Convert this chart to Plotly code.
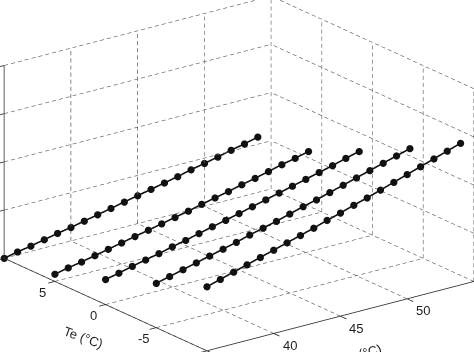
import plotly.graph_objects as go

# ---------------- data ----------------
tc = [35, 36, 37, 38, 39, 40, 41, 42, 43, 44, 45, 46, 47, 48, 49, 50, 51, 52, 53, 54]
te_levels = [10, 5, 0, -5, -10]
z_te10 = [0.00, 0.06, 0.11, 0.17, 0.23, 0.28, 0.34, 0.40, 0.46, 0.52, 0.58, 0.64, 0.70, 0.76, 0.83, 0.89, 0.95, 1.02, 1.08, 1.15]
z_te5 = [0.15, 0.21, 0.26, 0.32, 0.38, 0.44, 0.50, 0.56, 0.62, 0.68, 0.74, 0.81, 0.87, 0.93, 1.00, 1.06, 1.13, 1.20, 1.26, 1.33]
z_te0 = [0.52, 0.58, 0.65, 0.71, 0.77, 0.84, 0.90, 0.97, 1.04, 1.10, 1.17, 1.24, 1.31, 1.38, 1.45, 1.52, 1.59, 1.66, 1.74, 1.81]
z_tem5 = [0.92, 0.99, 1.06, 1.13, 1.20, 1.27, 1.34, 1.42, 1.49, 1.56, 1.64, 1.72, 1.79, 1.87, 1.95, 2.03, 2.11, 2.19, 2.27, 2.35]
z_tem10 = [1.33, 1.41, 1.49, 1.57, 1.65, 1.73, 1.81, 1.89, 1.97, 2.06, 2.14, 2.23, 2.31, 2.40, 2.49, 2.58, 2.67, 2.76, 2.85, 2.94]
z_series = [z_te10, z_te5, z_te0, z_tem5, z_tem10]

tc_ticks = [35, 40, 45, 50, 55]
te_ticks = [10, 5, 0, -5, -10]
z_ticks = [0, 1, 2, 3, 4]
tc_labels = ["35", "40", "45", "50", "55"]
te_labels = ["10", "5", "0", "-5", "-10"]
tc_range = [35, 55]
te_range = [-10, 10]
z_range = [0, 4]

# small room outside the box so that outward tick marks and edge lines are not clipped
TC_TICK = 0.5
TE_TICK = 0.6
EPS = 0.03
tc_view = [tc_range[0] - TC_TICK, tc_range[1] + EPS]
te_view = [te_range[0] - TE_TICK, te_range[1] + EPS]
z_view = [z_range[0] - EPS * 0.2, z_range[1] + EPS * 0.2]

fig = go.Figure()

# ---------------- dashed grid on the three back planes ----------------
gx, gy, gz = [], [], []
def dashed(a, b, n, frac=0.58):
    for k in range(n):
        t0 = k / n
        t1 = (k + frac) / n
        for t in (t0, t1):
            gx.append(a[0] + (b[0] - a[0]) * t)
            gy.append(a[1] + (b[1] - a[1]) * t)
            gz.append(a[2] + (b[2] - a[2]) * t)
        gx.append(None); gy.append(None); gz.append(None)

z0, z1 = z_range
x0, x1 = tc_range
y0, y1 = te_range
N_TC, N_TE, N_Z = 39, 32, 27
for v in te_ticks[:-1]:     # floor, lines along Tc
    dashed((x0, v, z0), (x1, v, z0), N_TC)
for v in tc_ticks[1:]:      # floor, lines along Te
    dashed((v, y0, z0), (v, y1, z0), N_TE)
for v in tc_ticks[1:]:      # wall Te = max
    dashed((v, y1, z0), (v, y1, z1), N_Z)
for v in z_ticks[1:]:
    dashed((x0, y1, v), (x1, y1, v), N_TC)
for v in te_ticks[1:]:      # wall Tc = max
    dashed((x1, v, z0), (x1, v, z1), N_Z)
for v in z_ticks[1:]:
    dashed((x1, y0, v), (x1, y1, v), N_TE)

fig.add_trace(go.Scatter3d(x=gx, y=gy, z=gz, mode="lines",
                           line=dict(color="#5f5f5f", width=1.3),
                           hoverinfo="skip", showlegend=False))

# ---------------- solid axis lines and tick marks ----------------
ax_x = [x0, x0, None, x0, x1, None, x0, x0, None]
ax_y = [y1, y0, None, y0, y0, None, y1, y1, None]
ax_z = [z0, z0, None, z0, z0, None, z0, z1, None]
for v in te_ticks:   # Te ticks, pointing outward (towards lower Tc)
    ax_x += [x0, x0 - TC_TICK, None]; ax_y += [v, v, None]; ax_z += [z0, z0, None]
for v in tc_ticks:   # Tc ticks, pointing outward (towards lower Te)
    ax_x += [v, v, None]; ax_y += [y0, y0 - TE_TICK, None]; ax_z += [z0, z0, None]
for v in z_ticks:    # z ticks on the left vertical axis
    ax_x += [x0, x0 - TC_TICK, None]; ax_y += [y1, y1, None]; ax_z += [v, v, None]
fig.add_trace(go.Scatter3d(x=ax_x, y=ax_y, z=ax_z, mode="lines",
                           line=dict(color="#2b2b2b", width=1.6),
                           hoverinfo="skip", showlegend=False))

# ---------------- data lines ----------------
for te, zs in zip(te_levels, z_series):
    fig.add_trace(go.Scatter3d(
        x=tc, y=[te] * len(tc), z=zs, mode="lines+markers",
        line=dict(color="#111111", width=3.2),
        marker=dict(color="#111111", size=4.2, symbol="circle", line=dict(width=0)),
        showlegend=False, hoverinfo="skip"))

# ---------------- tick labels and axis titles (horizontal text) ----------------
FONT = dict(family="Liberation Sans, Arial", size=13, color="#1e1e1e")
annotations = []
for v, lab in zip(te_ticks, te_labels):
    annotations.append(dict(x=x0, y=v, z=z0, text=lab, showarrow=False,
                            xanchor="center", yanchor="middle",
                            xshift=-12, yshift=-11, font=FONT))
for v, lab in zip(tc_ticks, tc_labels):
    annotations.append(dict(x=v, y=y0, z=z0, text=lab, showarrow=False,
                            xanchor="center", yanchor="middle",
                            xshift=16, yshift=-12, font=FONT))
annotations.append(dict(x=x0, y=0, z=z0, text="Te (°C)", showarrow=False,
                        xanchor="center", yanchor="middle", textangle=20,
                        xshift=-22, yshift=-33, font=FONT))
annotations.append(dict(x=45, y=y0, z=z0, text="Tc (°C)", showarrow=False,
                        xanchor="center", yanchor="middle", textangle=-15,
                        xshift=22, yshift=-37, font=FONT))

axcommon = dict(showgrid=False, zeroline=False, showbackground=False,
                showspikes=False, showline=False, showticklabels=False,
                ticks="", title=dict(text=""))

# scale of the normalised scene box (per data unit)
SX = 1.9 / 20.0
SY = 1.913 / 20.0
SZ = 1.1666 / 4.0
ar = dict(x=SX * (tc_view[1] - tc_view[0]),
          y=SY * (te_view[1] - te_view[0]),
          z=SZ * (z_view[1] - z_view[0]))
# keep the drawn box where it was: shift the look-at point by the padding offset
dx = SX * ((tc_range[0] + tc_range[1]) / 2 - (tc_view[0] + tc_view[1]) / 2)
dy = SY * ((te_range[0] + te_range[1]) / 2 - (te_view[0] + te_view[1]) / 2)
dz = SZ * ((z_range[0] + z_range[1]) / 2 - (z_view[0] + z_view[1]) / 2)
cen = dict(x=-0.0121 + dx, y=0.0029 + dy, z=-0.0134 + dz)
eye_dir = (-0.565 * 2, -0.749 * 2, 0.344 * 2)

fig.update_layout(
    width=474, height=352,
    margin=dict(l=0, r=0, t=0, b=0),
    paper_bgcolor="white",
    showlegend=False,
    scene=dict(
        domain=dict(x=[0, 1], y=[0, 1]),
        xaxis=dict(range=tc_view, **axcommon),
        yaxis=dict(range=te_view, **axcommon),
        zaxis=dict(range=z_view, **axcommon),
        aspectmode="manual",
        aspectratio=ar,
        camera=dict(projection=dict(type="orthographic"),
                    eye=dict(x=eye_dir[0] + cen["x"], y=eye_dir[1] + cen["y"], z=eye_dir[2] + cen["z"]),
                    up=dict(x=0, y=0, z=1),
                    center=cen),
        annotations=annotations,
    ),
)

fig.write_html("out.html", config={"displayModeBar": False})
